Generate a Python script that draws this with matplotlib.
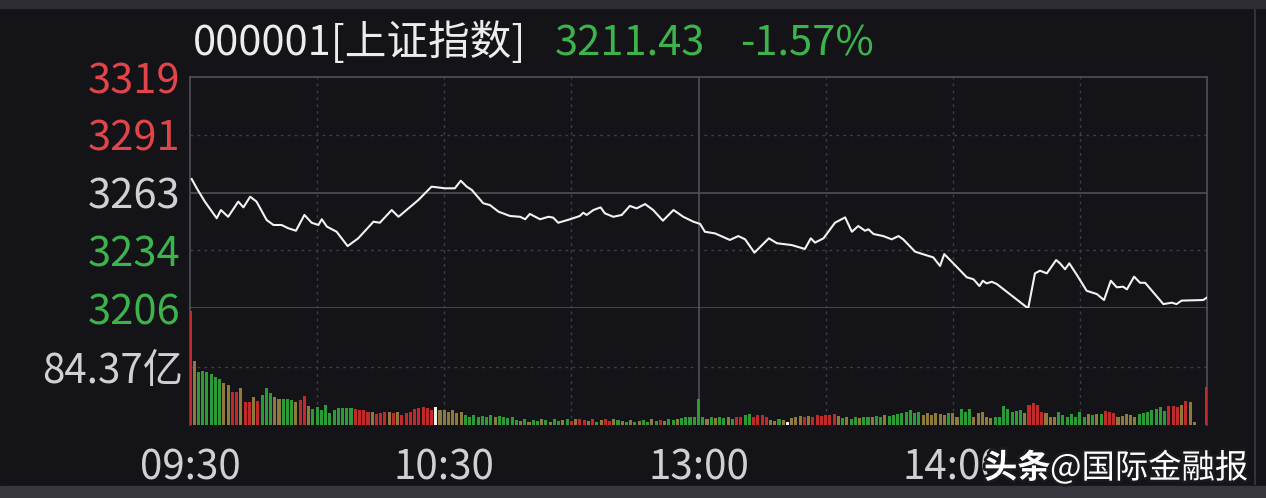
import numpy as np
import matplotlib.pyplot as plt
import matplotlib.patheffects as pe
from matplotlib.patches import Rectangle
from matplotlib.lines import Line2D

plt.rcParams['font.family'] = ['Noto Sans CJK SC', 'DejaVu Sans']

# ---- data ----
code_name = '000001[上证指数]'
last_price = '3211.43'
change_pct = '-1.57%'
prev_close = 3262.65
half_range = 56.35

price_labels = ['3319', '3291', '3263', '3234', '3206']
time_labels = ['09:30', '10:30', '13:00', '14:00']
time_ticks = [0, 60, 120, 180]
vol_label = '84.37亿'
vol_mid = 84.37

# intraday price trace (minute index from 09:30, index level)
trace_min = [0.4, 1.6, 3.5, 6.3, 7.3, 9.0, 11.4, 12.6, 14.2, 15.7,
             18.1, 19.7, 21.6, 23.2, 25.0, 27.0, 28.7, 30.3, 31.1, 32.3,
             34.6, 37.2, 39.7, 43.3, 44.8, 47.6, 49.2, 53.9, 57.0, 60.2,
             62.5, 63.9, 65.3, 66.5, 69.2, 70.8, 72.8, 75.5, 77.9, 79.1,
             80.2, 82.6, 84.6, 85.7, 86.9, 89.7, 92.0, 92.8, 93.6, 95.2,
             96.9, 97.9, 99.9, 101.9, 103.8, 105.4, 107.4, 109.3, 111.6, 114.1,
             116.4, 118.8, 120.4, 121.5, 123.9, 127.4, 129.4, 131.0, 133.2, 136.6,
             138.5, 142.0, 145.1, 146.5, 147.5, 149.5, 152.2, 154.6, 156.2, 157.7,
             159.3, 160.1, 161.3, 163.6, 165.6, 167.2, 168.3, 171.1, 173.5, 175.4,
             177.0, 178.0, 180.5, 183.3, 184.9, 186.3, 187.1, 188.0, 189.2, 190.4,
             197.8, 199.4, 200.6, 202.2, 204.4, 205.3, 206.5, 207.5, 209.3, 211.6,
             214.0, 215.7, 217.3, 218.7, 220.2, 221.1, 222.8, 224.2, 225.4, 229.7,
             231.7, 232.8, 234.0, 239.1, 240.0]
trace_price = [3269.2, 3264.7, 3258.2, 3250.1, 3254.1, 3250.8, 3258.2, 3255.4, 3260.6, 3258.2,
               3249.2, 3246.8, 3246.8, 3245.2, 3244.0, 3251.7, 3247.9, 3246.8, 3249.6, 3246.0,
               3243.5, 3236.5, 3240.3, 3248.4, 3247.9, 3254.1, 3250.8, 3259.0, 3265.5, 3264.7,
               3264.7, 3268.4, 3265.5, 3263.9, 3257.4, 3256.5, 3253.3, 3251.2, 3250.8, 3249.6,
               3252.2, 3249.6, 3250.8, 3250.4, 3247.9, 3249.6, 3251.2, 3252.8, 3251.7, 3254.1,
               3255.4, 3252.5, 3250.8, 3251.7, 3256.1, 3254.9, 3257.0, 3254.1, 3248.9, 3254.1,
               3250.8, 3248.4, 3247.3, 3243.5, 3242.7, 3239.5, 3241.4, 3239.8, 3233.3, 3240.3,
               3237.9, 3237.0, 3235.1, 3240.3, 3238.2, 3240.3, 3247.9, 3250.5, 3243.5, 3246.3,
               3244.0, 3244.7, 3242.4, 3241.4, 3239.8, 3241.4, 3239.8, 3233.8, 3232.2, 3231.0,
               3226.8, 3232.6, 3227.3, 3221.3, 3220.3, 3217.0, 3219.6, 3218.3, 3219.1, 3218.0,
               3206.1, 3223.2, 3224.5, 3223.2, 3229.7, 3228.1, 3225.2, 3228.1, 3222.4, 3214.7,
               3213.1, 3210.2, 3219.6, 3216.4, 3216.7, 3215.4, 3221.6, 3218.6, 3218.6, 3208.2,
               3208.9, 3208.2, 3209.9, 3210.2, 3211.4]

# per-minute turnover (亿), 241 bars
volume = [165, 93, 76, 78, 77, 73, 69, 66, 60, 57,
          48, 47, 53, 33, 33, 40, 35, 43, 53, 46,
          40, 37, 37, 37, 36, 33, 36, 42, 27, 23,
          26, 22, 29, 17, 22, 24, 25, 24, 24, 23,
          22, 22, 19, 19, 16, 17, 19, 19, 17, 19,
          14, 17, 19, 23, 24, 26, 24, 22, 26, 22,
          22, 19, 22, 17, 19, 14, 12, 14, 11, 13,
          12, 14, 11, 13, 12, 10, 11, 7, 6, 8,
          5, 7, 6, 8, 7, 5, 9, 6, 7, 8,
          6, 8, 9, 7, 6, 8, 5, 7, 9, 6,
          8, 7, 6, 5, 7, 5, 6, 7, 5, 8,
          6, 7, 6, 8, 7, 9, 10, 11, 12, 11,
          37, 11, 9, 11, 10, 11, 10, 11, 9, 11,
          12, 15, 16, 11, 14, 14, 12, 7, 6, 8,
          7, 4, 10, 12, 13, 11, 13, 12, 14, 13,
          15, 14, 16, 13, 10, 11, 9, 11, 10, 12,
          11, 12, 13, 12, 14, 13, 15, 16, 17, 19,
          21, 18, 19, 15, 17, 14, 18, 16, 15, 18,
          17, 12, 23, 19, 23, 12, 17, 19, 12, 10,
          12, 12, 27, 23, 19, 20, 21, 17, 29, 32,
          29, 19, 17, 12, 11, 19, 14, 12, 16, 12,
          19, 12, 16, 14, 16, 16, 20, 19, 18, 12,
          13, 16, 14, 12, 16, 17, 19, 21, 23, 26,
          20, 27, 28, 26, 29, 35, 33, 5, 0, 0,
          55]
# R up, G down, O mixed, W flat
vol_dir = ('ROGGGGGGOO' 'RRORRORGGG' 'OOGGGORROG' 'GGGGGGGGGR' 'RRRORRRORO'
           'RRRRRRRRWO' 'OOOOOGGGGG' 'GGOGGGGGOG' 'OGGOGOGGOG' 'RORRORGORR'
           'OGOGOGOGGO' 'GROGGOGGGG' 'GGOGOGGOGR' 'RGGRRRROOG' 'OWOOORORRR'
           'RRROGOGGOG' 'GOGGOGGGGG' 'GGGOOOOOOG' 'OOGGGOOOOO' 'GGGGGGGORR'
           'RROOOGGGGG' 'GGOGOGRRRO' 'OOOOGGGGGG' 'GRRROROOGG' 'R')

# ---- style ----
bg = '#131318'
grid_c = '#3e3e48'
frame_c = '#50505a'
red = '#e0454a'
green = '#3cb44b'
light = '#cfcfd4'
bar_colors = {'R': '#c02a2a', 'G': '#2c9a36', 'O': '#8e7a3c', 'W': '#eeeeee'}

W, H = 1266, 498
fig = plt.figure(figsize=(W / 100, H / 100), dpi=100, facecolor=bg)

# top and bottom strips of the screenshot
fig.patches.append(Rectangle((0, 1 - 8 / H), 1, 8 / H, transform=fig.transFigure,
                             color='#2c2c32', zorder=0))
fig.patches.append(Rectangle((0, 0), 1, 12 / H, transform=fig.transFigure,
                             color='#36363c', zorder=0))
fig.lines.append(Line2D([1255 / W, 1255 / W], [14 / H, 1 - 10 / H], transform=fig.transFigure,
                        color='#3a3a42', lw=1.2))


def px_box(x0, y0, x1, y1):
    return [x0 / W, 1 - y1 / H, (x1 - x0) / W, (y1 - y0) / H]


ax_p = fig.add_axes(px_box(190, 77, 1207, 308))
ax_v = fig.add_axes(px_box(190, 308, 1207, 425))

for ax in (ax_p, ax_v):
    ax.set_facecolor(bg)
    ax.set_xlim(0, 240)
    ax.tick_params(length=0)
    for s in ax.spines.values():
        s.set_color(frame_c)
        s.set_linewidth(1.2)
    for m in (30, 60, 90, 150, 180, 210):
        ax.axvline(m, color=grid_c, lw=1, ls=(0, (2, 3)), zorder=0)
    ax.axvline(120, color=frame_c, lw=1.2, zorder=0)

# price panel
lo, hi = prev_close - half_range, prev_close + half_range
ax_p.set_ylim(lo, hi)
levels = np.linspace(hi, lo, 5)
ax_p.axhline(levels[1], color=grid_c, lw=1, ls=(0, (2, 3)), zorder=0)
ax_p.axhline(levels[2], color=frame_c, lw=1.2, zorder=0)
ax_p.axhline(levels[3], color=grid_c, lw=1, ls=(0, (2, 3)), zorder=0)
ax_p.set_yticks(levels)
ax_p.set_yticklabels(price_labels, fontsize=30)
ax_p.tick_params(axis='y', pad=7)
for lab, c in zip(ax_p.get_yticklabels(), [red, red, light, green, green]):
    lab.set_color(c)
ax_p.set_xticks([])
ax_p.plot(trace_min, trace_price, color='#f2f2f2', lw=1.5, zorder=3)

# volume panel
ax_v.spines['top'].set_visible(False)
ax_v.spines['bottom'].set_visible(False)
ax_v.set_ylim(0, vol_mid * 2)
ax_v.axhline(vol_mid, color=grid_c, lw=1, ls=(0, (2, 3)), zorder=0)
ax_v.bar(np.arange(len(volume)), volume, width=0.72,
         color=[bar_colors[d] for d in vol_dir], linewidth=0, zorder=3)
ax_v.set_yticks([vol_mid])
ax_v.set_yticklabels([vol_label], fontsize=29, color=light)
ax_v.tick_params(axis='y', pad=5)
ax_v.set_xticks(time_ticks)
ax_v.set_xticklabels(time_labels, fontsize=29, color=light)
ax_v.tick_params(axis='x', pad=16)

# header
base = 1 - 55 / H
fig.text(193 / W, base, code_name, fontsize=30, color='#ececec', va='baseline')
fig.text(555 / W, base, last_price, fontsize=30, color=green, va='baseline')
fig.text(740 / W, base, change_pct, fontsize=30, color=green, va='baseline')

# watermark
stroke = [pe.withStroke(linewidth=4, foreground='#1a1a1e')]
fig.text(984 / W, 1 - 478 / H, '头条', fontsize=24, fontweight='bold', color='white',
         va='baseline', path_effects=stroke)
fig.text(1050 / W, 1 - 478 / H, '@国际金融报', fontsize=24, color='white',
         va='baseline', path_effects=stroke)

fig.savefig('out.png', dpi=100, facecolor=bg)
